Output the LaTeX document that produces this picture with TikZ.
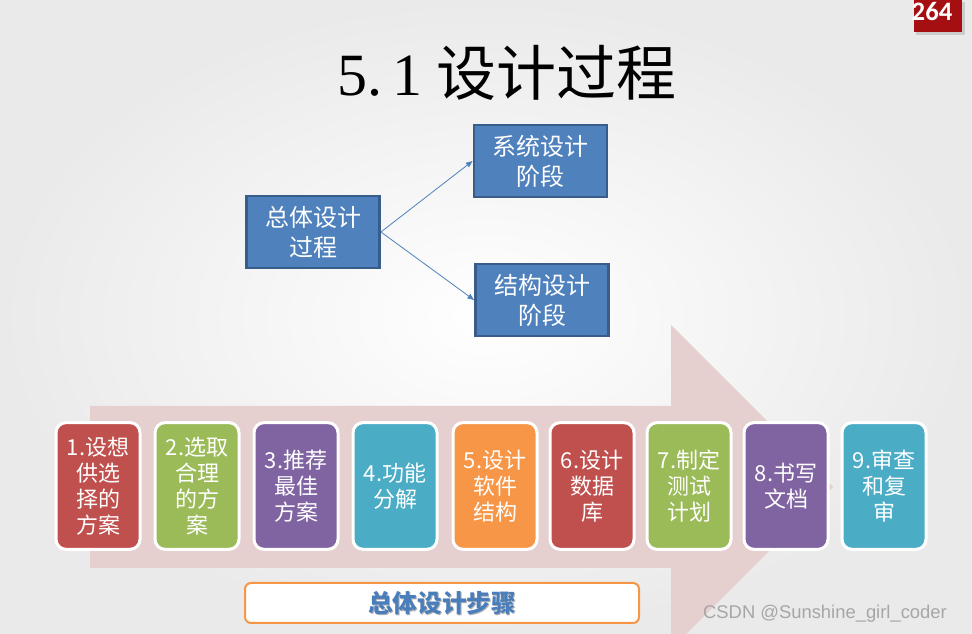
\documentclass[tikz,border=0pt]{standalone}
\usepackage{fontspec}
\setmainfont{Noto Sans CJK SC}
\newfontfamily\digserif{Liberation Serif}
\newfontfamily\badgefont{Carlito}
\newfontfamily\wmfont{Liberation Sans}
\usetikzlibrary{arrows.meta,shadows}
\definecolor{ored}{HTML}{C0504D}
\definecolor{ogreen}{HTML}{9BBB59}
\definecolor{opurple}{HTML}{8064A2}
\definecolor{oteal}{HTML}{4BACC6}
\definecolor{oorange}{HTML}{F79646}
\definecolor{oblue}{HTML}{4F81BD}
\definecolor{obluedark}{HTML}{385D8A}
\definecolor{arrowpink}{HTML}{E6CFCF}
\definecolor{badgered}{HTML}{A50F12}
\definecolor{labelblue}{HTML}{4A7EBB}
\definecolor{bggray}{HTML}{EAEAEA}
\begin{document}
\begin{tikzpicture}[x=0.75pt,y=-0.75pt,
  stepbox/.style={draw=white,line width=2.25pt,rounded corners=7.5pt,
    minimum width=63pt,minimum height=95pt,text=white,align=center,
    inner sep=1pt,font=\fontsize{16.5}{19.5}\selectfont},
  phasebox/.style={draw=obluedark,fill=oblue,line width=1.9pt,
    minimum width=100pt,minimum height=54pt,text=white,align=center,
    font=\fontsize{18}{22.5}\selectfont},
  flow/.style={draw=oblue,line width=0.6pt,-{Triangle[length=5pt,width=4pt]}}]
\useasboundingbox (0,0) rectangle (972,634);
\shade[inner color=white,outer color=bggray] (0,0) rectangle (972,634);
\begin{scope}
\clip (0,0) rectangle (972,634);
\fill[arrowpink] (90,406) -- (671,406) -- (671,325) -- (833,487) -- (671,649) -- (671,568) -- (90,568) -- cycle;
\end{scope}
% badge
\fill[gray!40] (916,2) rectangle (965,35);
\fill[badgered] (914,0) rectangle (962,32);
\node[text=white,font=\badgefont\bfseries\fontsize{20}{20}\selectfont] (badge) at (932,12) {264};
% title
\node[font=\fontsize{45}{45}\selectfont] (title) at (507,73) {{\digserif 5.\,1} 设计过程};
% phase boxes
\node[phasebox] (overall) at (313,232) {总体设计\\过程};
\node[phasebox] (sys) at (540.5,161) {系统设计\\阶段};
\node[phasebox] (struct) at (542,300) {结构设计\\阶段};
\draw[flow] (overall.east) -- (sys.west);
\draw[flow] (overall.east) -- (struct.west);
% steps
\node[stepbox,fill=ored] (s1) at (98,486) {1.设想\\供选\\择的\\方案};
\node[stepbox,fill=ogreen] (s2) at (197,486) {2.选取\\合理\\的方\\案};
\node[stepbox,fill=opurple] (s3) at (296,486) {3.推荐\\最佳\\方案};
\node[stepbox,fill=oteal] (s4) at (395,486) {4.功能\\分解};
\node[stepbox,fill=oorange] (s5) at (495,486) {5.设计\\软件\\结构};
\node[stepbox,fill=ored] (s6) at (592,486) {6.设计\\数据\\库};
\node[stepbox,fill=ogreen] (s7) at (689,486) {7.制定\\测试\\计划};
\node[stepbox,fill=opurple] (s8) at (786,486) {8.书写\\文档};
\node[stepbox,fill=oteal] (s9) at (884,486) {9.审查\\和复\\审};
% label
\draw[draw=oorange,fill=white,line width=1.5pt,rounded corners=4.5pt] (245,583) rectangle (639,623);
\node[text=gray!60,font=\bfseries\fontsize{18.5}{18.5}\selectfont] at (443,604) {总体设计步骤};
\node[text=labelblue,font=\bfseries\fontsize{18.5}{18.5}\selectfont] (label) at (442,603) {总体设计步骤};
% watermark
\node[text=gray!70,font=\wmfont\fontsize{13.8}{13.8}\selectfont] (wm) at (825,614) {CSDN @Sunshine\_girl\_coder};
\end{tikzpicture}
\end{document}
